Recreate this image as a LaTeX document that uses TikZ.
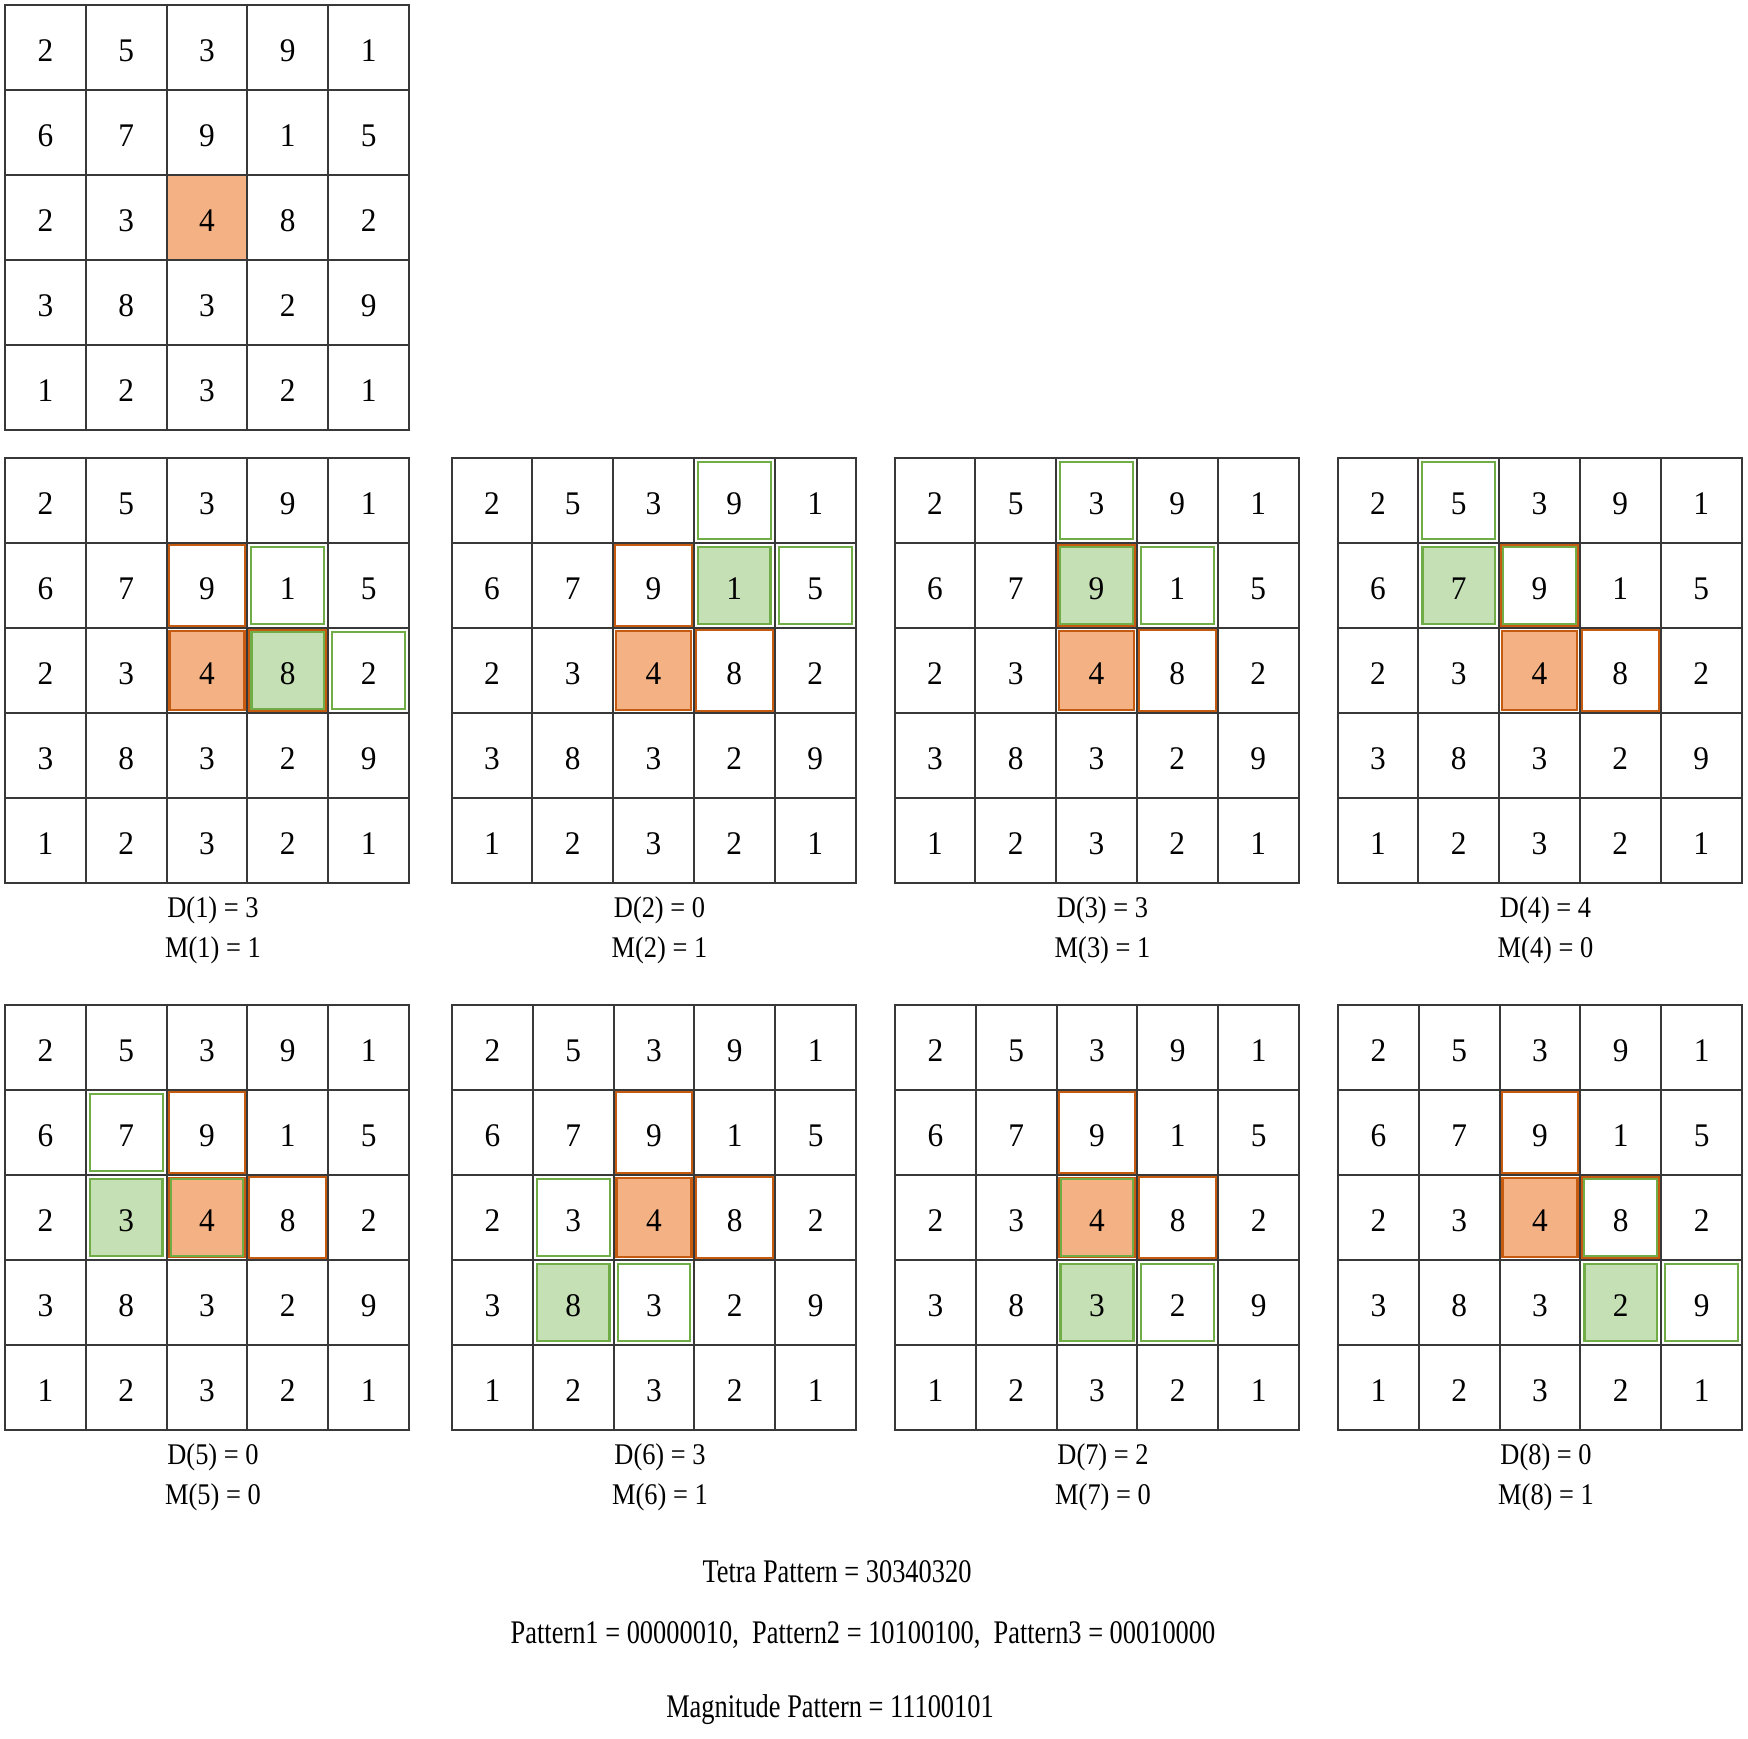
\documentclass[tikz,border=0pt]{standalone}
\usepackage{fontspec}
\setmainfont{Liberation Serif}
\usepackage{graphicx}
\definecolor{orfill}{HTML}{F4B183}
\definecolor{ordraw}{HTML}{C55A11}
\definecolor{grfill}{HTML}{C5E0B4}
\definecolor{grdraw}{HTML}{70AD47}
\definecolor{gridc}{HTML}{383838}
\tikzset{
  gridline/.style={draw=gridc, line width=2pt, line cap=rect},
  digit/.style={inner sep=0pt, font=\fontsize{33}{36}\selectfont},
  lbl/.style={inner sep=0pt, anchor=base, font=\fontsize{30}{34}\selectfont},
  btm/.style={inner sep=0pt, anchor=base, font=\fontsize{33}{38}\selectfont},
  ctrbox/.style={fill=orfill, draw=ordraw, line width=2.5pt},
  ctrplain/.style={fill=orfill},
  orbox/.style={draw=ordraw, line width=2pt},
  grbox/.style={fill=grfill, draw=grdraw, line width=2.5pt},
  groutl/.style={draw=grdraw, line width=2pt},
}
\newcommand\cw{80.8}
\newcommand\ch{85}
% #1 style, #2 x0, #3 y0, #4 row, #5 col, #6 inset
\newcommand\cellbox[6]{%
  \path[#1] ({#2+(#5)*\cw+#6},{#3+(#4)*\ch+#6}) rectangle ({#2+(#5+1)*\cw-#6},{#3+(#4+1)*\ch-#6});}
% #1 name, #2 x0, #3 y0
\newcommand\gridlines[3]{%
  \foreach \i in {0,...,5} {
    \draw[gridline] ({#2+\i*\cw},#3) -- ({#2+\i*\cw},{#3+5*\ch});
    \draw[gridline] (#2,{#3+\i*\ch}) -- ({#2+5*\cw},{#3+\i*\ch});
  }}
\newcommand\griddigits[3]{%
  \foreach \row [count=\r from 0] in {{2,5,3,9,1},{6,7,9,1,5},{2,3,4,8,2},{3,8,3,2,9},{1,2,3,2,1}} {
    \foreach \v [count=\c from 0] in \row {
      \node[digit] (#1-\r-\c) at ({#2+(\c+0.5)*\cw},{#3+(\r+0.5)*\ch+3}) {\scalebox{0.95}[1]{\v}};
    }
  }}
% #1 name, #2 x0, #3 y0, #4 green row, #5 green col, #6 index, #7 D, #8 M
\newcommand\panel[8]{%
  \gridlines{#1}{#2}{#3}
  \cellbox{ctrbox}{#2}{#3}{2}{2}{3}
  \cellbox{orbox}{#2}{#3}{1}{2}{2}
  \cellbox{orbox}{#2}{#3}{2}{3}{2}
  \cellbox{grbox}{#2}{#3}{#4}{#5}{4}
  \cellbox{groutl}{#2}{#3}{#4-1}{#5}{4}
  \cellbox{groutl}{#2}{#3}{#4}{#5+1}{4}
  \griddigits{#1}{#2}{#3}
  \node[lbl] (#1-D) at ({#2+208},{#3+459}) {\scalebox{0.88}[1]{D(#6) = #7}};
  \node[lbl] (#1-M) at ({#2+208},{#3+499}) {\scalebox{0.88}[1]{M(#6) = #8}};
}
\begin{document}
\begin{tikzpicture}[x=1pt,y=-1pt]
\useasboundingbox[fill=white] (0,0) rectangle (1748,1739);
% top grid
\cellbox{ctrplain}{5}{5}{2}{2}{0}
\gridlines{top}{5}{5}
\griddigits{top}{5}{5}
% row 2
\panel{pa}{5}{458}{2}{3}{1}{3}{1}
\panel{pb}{451.5}{458}{1}{3}{2}{0}{1}
\panel{pc}{894.5}{458}{1}{2}{3}{3}{1}
\panel{pd}{1337.5}{458}{1}{1}{4}{4}{0}
% row 3
\panel{pe}{5}{1005}{2}{1}{5}{0}{0}
\panel{pf}{452}{1005}{3}{1}{6}{3}{1}
\panel{pg}{895}{1005}{3}{2}{7}{2}{0}
\panel{ph}{1338}{1005}{3}{3}{8}{0}{1}
% bottom
\node[btm] (tetra) at (837,1582) {\scalebox{0.8}[1]{Tetra Pattern = 30340320}};
\node[btm] (pats) at (863,1643) {\scalebox{0.8}[1]{Pattern1 = 00000010,\ \ Pattern2 = 10100100,\ \ Pattern3 = 00010000}};
\node[btm] (magn) at (830,1717) {\scalebox{0.8}[1]{Magnitude Pattern = 11100101}};
\end{tikzpicture}
\end{document}
